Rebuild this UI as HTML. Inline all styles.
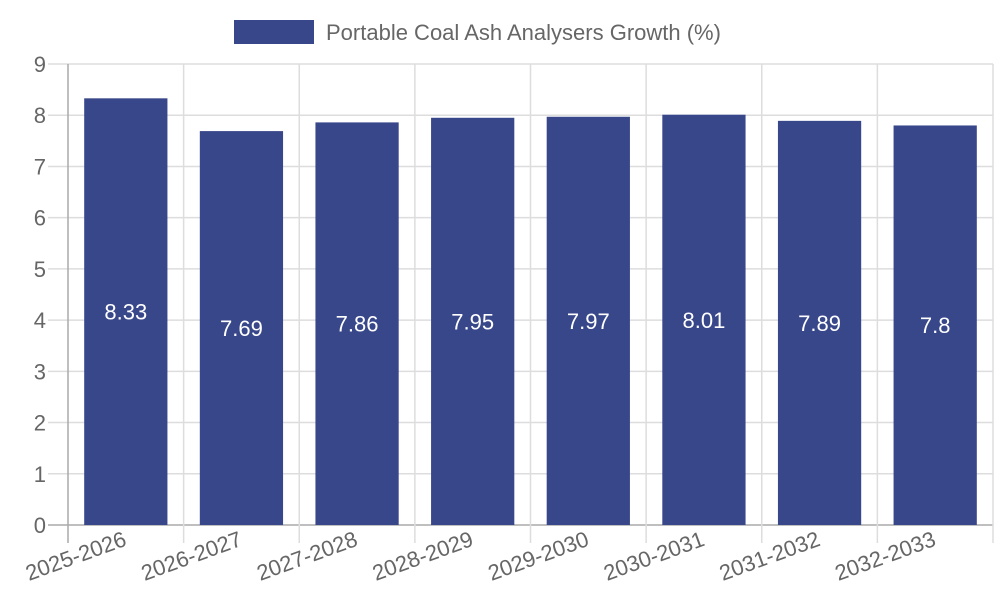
<!DOCTYPE html>
<html><head><meta charset="utf-8"><style>body{margin:0;background:#fff}svg{font-family:"Liberation Sans",sans-serif}</style></head>
<body>
<svg id="c" width="1000" height="600">
<rect x="234" y="20" width="80" height="24" fill="#38478a"/>
<text x="326" y="40" font-size="22" fill="#666">Portable Coal Ash Analysers Growth (%)</text>
</svg>
<script>
const categories=["2025-2026","2026-2027","2027-2028","2028-2029","2029-2030","2030-2031","2031-2032","2032-2033"];
const values=[8.33,7.69,7.86,7.95,7.97,8.01,7.89,7.8];
const yTicks=[0,1,2,3,4,5,6,7,8,9];
const svg=document.getElementById('c');const NS='http://www.w3.org/2000/svg';
const L=68,R=993,T=64,B=525,yMax=9;
const y=v=>B-(v/yMax)*(B-T);
const bw=(R-L)/categories.length;
const x=i=>L+i*bw;
function mk(t,a,p){const e=document.createElementNS(NS,t);for(const k in a)e.setAttribute(k,a[k]);(p||svg).appendChild(e);return e;}
yTicks.forEach(t=>{
 const g=mk('line',{x1:48,x2:R,y1:y(t),y2:y(t),stroke:t===0?'#aaa':'#ddd','stroke-width':1.5});
 
 
 const tx=mk('text',{x:46,y:y(t)+8,'text-anchor':'end','font-size':22,fill:'#666'});tx.textContent=t;
 
 
});
for(let i=0;i<=categories.length;i++){
 const g=mk('line',{x1:x(i),x2:x(i),y1:T,y2:B+18,stroke:i===0?'#aaa':'#ddd','stroke-width':1.5});
 
 
}
categories.forEach((c,i)=>{
 const cx=x(i)+bw/2,w=bw*0.72;
 const r=mk('rect',{x:cx-w/2,y:y(values[i]),width:w,height:B-y(values[i]),fill:'#38478a'});
 
 
 const v=mk('text',{x:cx,y:(y(values[i])+B)/2+8,'text-anchor':'middle','font-size':22,fill:'#fff'});v.textContent=values[i];
 
 
 const lx=cx+2,ly=545;
 const t=mk('text',{x:lx,y:ly,'text-anchor':'end','font-size':22,fill:'#666',transform:`rotate(-20 ${lx} ${ly})`});t.textContent=c;
 
 
});
</script>
</body></html>
